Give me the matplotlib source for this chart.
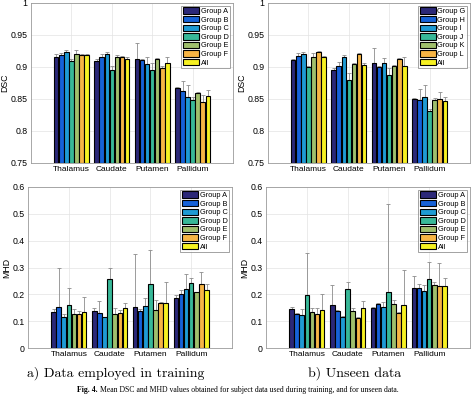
import numpy as np
import matplotlib
matplotlib.use("Agg")
import matplotlib.pyplot as plt

plt.rcParams['font.family'] = ['Liberation Sans', 'DejaVu Sans']

structures = ["Thalamus", "Caudate", "Putamen", "Pallidum"]
groups_train = ["Group A", "Group B", "Group C", "Group D", "Group E", "Group F", "All"]
groups_unseen = ["Group G", "Group H", "Group I", "Group J", "Group K", "Group L", "All"]
colors = ["#2b2878", "#1662d8", "#1e9bd4", "#38b898", "#a0bf6c", "#f7b545", "#f6f122"]

# rows = structures, columns = groups
dsc_train = [[0.916, 0.918, 0.924, 0.909, 0.920, 0.919, 0.918],
             [0.910, 0.916, 0.921, 0.896, 0.916, 0.915, 0.913],
             [0.913, 0.911, 0.905, 0.895, 0.912, 0.899, 0.906],
             [0.867, 0.862, 0.853, 0.849, 0.859, 0.845, 0.855]]
dsc_train_err = [[0.004, 0.004, 0.002, 0.003, 0.006, 0.002, 0.002],
                 [0.002, 0.004, 0.002, 0.005, 0.003, 0.002, 0.002],
                 [0.025, 0.002, 0.010, 0.012, 0.002, 0.002, 0.010],
                 [0.002, 0.016, 0.019, 0.004, 0.002, 0.011, 0.009]]

dsc_unseen = [[0.911, 0.917, 0.921, 0.900, 0.916, 0.923, 0.915],
              [0.896, 0.902, 0.916, 0.880, 0.904, 0.920, 0.903],
              [0.906, 0.900, 0.906, 0.888, 0.901, 0.912, 0.902],
              [0.850, 0.848, 0.853, 0.831, 0.849, 0.850, 0.847]]
dsc_unseen_err = [[0.002, 0.005, 0.002, 0.002, 0.006, 0.002, 0.002],
                  [0.002, 0.006, 0.002, 0.010, 0.003, 0.002, 0.003],
                  [0.024, 0.002, 0.008, 0.010, 0.002, 0.002, 0.014],
                  [0.002, 0.018, 0.019, 0.003, 0.002, 0.011, 0.006]]

mhd_train = [[0.134, 0.151, 0.117, 0.161, 0.127, 0.128, 0.136],
             [0.138, 0.131, 0.114, 0.257, 0.125, 0.130, 0.149],
             [0.151, 0.138, 0.156, 0.240, 0.143, 0.168, 0.167],
             [0.185, 0.200, 0.220, 0.242, 0.207, 0.240, 0.216]]
mhd_train_err = [[0.012, 0.146, 0.010, 0.061, 0.019, 0.010, 0.054],
                 [0.010, 0.044, 0.003, 0.043, 0.023, 0.010, 0.018],
                 [0.201, 0.007, 0.029, 0.127, 0.037, 0.003, 0.078],
                 [0.012, 0.016, 0.057, 0.018, 0.003, 0.042, 0.022]]

mhd_unseen = [[0.146, 0.127, 0.122, 0.198, 0.134, 0.127, 0.141],
              [0.162, 0.139, 0.114, 0.219, 0.139, 0.113, 0.148],
              [0.148, 0.164, 0.153, 0.210, 0.163, 0.131, 0.162],
              [0.223, 0.222, 0.214, 0.258, 0.234, 0.231, 0.231]]
mhd_unseen_err = [[0.007, 0.005, 0.023, 0.155, 0.016, 0.021, 0.059],
                  [0.071, 0.003, 0.004, 0.026, 0.009, 0.002, 0.027],
                  [0.004, 0.004, 0.019, 0.327, 0.017, 0.004, 0.130],
                  [0.044, 0.016, 0.022, 0.062, 0.011, 0.085, 0.029]]

W, H = 474, 395
fig = plt.figure(figsize=(W / 100, H / 100), dpi=100)


def px_axes(left, right, top, bottom):
    return fig.add_axes([left / W, 1 - bottom / H, (right - left) / W, (bottom - top) / H])


def grouped(ax, vals, errs, labels, ylabel, ylim, yticks, yticklabels):
    vals = np.array(vals)
    errs = np.array(errs)
    x = np.arange(1, len(structures) + 1)
    n = vals.shape[1]
    step = 0.125
    for j in range(n):
        xs = x + (j - (n - 1) / 2) * step
        ax.bar(xs, vals[:, j] - ylim[0], bottom=ylim[0], width=0.11, color=colors[j],
               edgecolor="black", linewidth=0.8, label=labels[j], zorder=3)
        ax.errorbar(xs, vals[:, j], yerr=[np.zeros(len(x)), errs[:, j]], fmt="none",
                    ecolor="#8c8c8c", elinewidth=0.6, capsize=1.2, capthick=0.6, zorder=2)
    ax.set_xlim(0, 5)
    ax.set_ylim(*ylim)
    ax.set_xticks(x)
    ax.set_xticklabels(structures, fontsize=6)
    ax.set_yticks(yticks)
    ax.set_yticklabels(yticklabels, fontsize=6.3)
    ax.set_ylabel(ylabel, fontsize=6.3, labelpad=1)
    ax.grid(True, color="#e3e3e3", linewidth=0.5, zorder=0)
    ax.set_axisbelow(True)
    ax.tick_params(length=0, pad=2.5)
    for s in ax.spines.values():
        s.set_color("#9a9a9a")
        s.set_linewidth(0.6)
    leg = ax.legend(loc="upper right", fontsize=5.3, frameon=True, fancybox=False,
                    handlelength=2.2, handleheight=0.95, handletextpad=0.2,
                    borderpad=0.25, labelspacing=0.12, borderaxespad=0.35)
    leg.get_frame().set_edgecolor("#777777")
    leg.get_frame().set_linewidth(0.6)
    for h in leg.legend_handles:
        h.set_linewidth(0.8)


dsc_ticks = [0.75, 0.8, 0.85, 0.9, 0.95, 1.0]
dsc_labels = ["0.75", "0.8", "0.85", "0.9", "0.95", "1"]
mhd_ticks = [0, 0.1, 0.2, 0.3, 0.4, 0.5, 0.6]
mhd_labels = ["0", "0.1", "0.2", "0.3", "0.4", "0.5", "0.6"]

ax1 = px_axes(31, 233, 3, 163)
grouped(ax1, dsc_train, dsc_train_err, groups_train, "DSC", (0.75, 1.0), dsc_ticks, dsc_labels)
ax2 = px_axes(268, 470, 3, 163)
grouped(ax2, dsc_unseen, dsc_unseen_err, groups_unseen, "DSC", (0.75, 1.0), dsc_ticks, dsc_labels)
ax3 = px_axes(28, 232, 187, 348)
grouped(ax3, mhd_train, mhd_train_err, groups_train, "MHD", (0, 0.6), mhd_ticks, mhd_labels)
ax4 = px_axes(266, 470, 187, 348)
grouped(ax4, mhd_unseen, mhd_unseen_err, groups_train, "MHD", (0, 0.6), mhd_ticks, mhd_labels)

fig.text(116 / W, 1 - 373 / H, "a) Data employed in training", family="cmr10",
         fontsize=10, ha="center", va="center")
fig.text(355 / W, 1 - 373 / H, "b) Unseen data", family="cmr10",
         fontsize=10, ha="center", va="center")

fig.text(0.5 - 139 / W, 1 - 389.5 / H, "Fig. 4.", family="Liberation Serif",
         fontweight="bold", fontsize=5.6, ha="right", va="center")
fig.text(0.5 - 137 / W, 1 - 389.5 / H,
         "Mean DSC and MHD values obtained for subject data used during training, and for unseen data.",
         family="Liberation Serif", fontsize=5.6, ha="left", va="center")

fig.savefig("out.png", dpi=100)
